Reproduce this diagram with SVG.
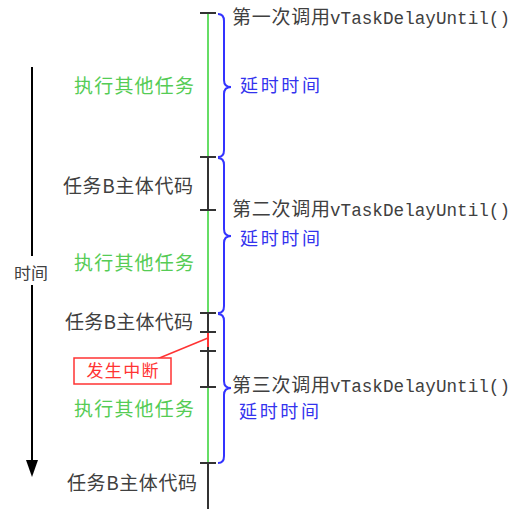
<svg xmlns="http://www.w3.org/2000/svg" width="522" height="509" viewBox="0 0 522 509">
  <style>
    .cjk { font-family: "Noto Sans CJK SC", "Noto Sans", sans-serif; }
    .mono { font-family: "Liberation Mono", "Noto Sans CJK SC", monospace; }
    .gray { fill: #404040; }
    .green { fill: #55cc55; }
    .blue { fill: #3333ee; }
    .red { fill: #ff3333; }
    .seg-g { stroke: #66dd66; stroke-width: 2; fill: none; }
    .seg-k { stroke: #333333; stroke-width: 2; fill: none; }
    .seg-r { stroke: #ff3333; stroke-width: 2; fill: none; }
    .tick { stroke: #333333; stroke-width: 2; }
    .brace { stroke: #3333ff; stroke-width: 2; fill: none; }
  </style>
  <rect width="522" height="509" fill="#ffffff"/>

  <!-- time axis -->
  <g id="time-axis">
    <line x1="32" y1="67" x2="32" y2="256" stroke="#000" stroke-width="2"/>
    <line x1="32" y1="285" x2="32" y2="460" stroke="#000" stroke-width="2"/>
    <path d="M26,460 L38,460 L32,477 Z" fill="#000"/>
    <text x="14" y="279" class="cjk gray" font-size="16" textLength="34" lengthAdjust="spacingAndGlyphs">时间</text>
  </g>

  <!-- timeline segments -->
  <g id="connectors">
    <line class="seg-g" x1="208" y1="13" x2="208" y2="157"/>
    <line class="seg-k" x1="208" y1="157" x2="208" y2="210"/>
    <line class="seg-g" x1="208" y1="210" x2="208" y2="313"/>
    <line class="seg-k" x1="208" y1="313" x2="208" y2="332"/>
    <line class="seg-r" x1="208" y1="332" x2="208" y2="347"/>
    <line class="seg-k" x1="208" y1="347" x2="208" y2="387"/>
    <line class="seg-g" x1="208" y1="387" x2="208" y2="463"/>
    <line class="seg-k" x1="208" y1="463" x2="208" y2="509"/>
    <line class="tick" x1="200" y1="13" x2="216" y2="13"/>
    <line class="tick" x1="200" y1="157" x2="216" y2="157"/>
    <line class="tick" x1="200" y1="210" x2="216" y2="210"/>
    <line class="tick" x1="200" y1="313" x2="216" y2="313"/>
    <line class="tick" x1="200" y1="332" x2="216" y2="332"/>
    <line class="tick" x1="200" y1="351" x2="216" y2="351"/>
    <line class="tick" x1="200" y1="387" x2="216" y2="387"/>
    <line class="tick" x1="200" y1="463" x2="216" y2="463"/>
    <line x1="208" y1="338" x2="157" y2="359" stroke="#ff3333" stroke-width="1.5"/>
  </g>

  <!-- braces -->
  <g id="brace-1">
    <path class="brace" d="M218,14 Q224,14 224,21 L224,80 Q224,87 231,87 Q224,87 224,94 L224,150 Q224,157 218,157"/>
  </g>
  <g id="brace-2">
    <path class="brace" d="M218,158 Q224,158 224,165 L224,229 Q224,236 231,236 Q224,236 224,243 L224,306 Q224,313 218,313"/>
  </g>
  <g id="brace-3">
    <path class="brace" d="M218,314 Q224,314 224,321 L224,381 Q224,388 231,388 Q224,388 224,395 L224,456 Q224,463 218,463"/>
  </g>

  <!-- call labels -->
  <g id="call-1">
    <text y="24" class="gray" font-size="19"><tspan x="232" class="cjk" textLength="98" lengthAdjust="spacing">第一次调用</tspan><tspan x="330" class="mono" font-size="17.6" textLength="180" lengthAdjust="spacing">vTaskDelayUntil()</tspan></text>
  </g>
  <g id="call-2">
    <text y="216" class="gray" font-size="19"><tspan x="232" class="cjk" textLength="98" lengthAdjust="spacing">第二次调用</tspan><tspan x="330" class="mono" font-size="17.6" textLength="180" lengthAdjust="spacing">vTaskDelayUntil()</tspan></text>
  </g>
  <g id="call-3">
    <text y="392" class="gray" font-size="19"><tspan x="232" class="cjk" textLength="98" lengthAdjust="spacing">第三次调用</tspan><tspan x="330" class="mono" font-size="17.6" textLength="180" lengthAdjust="spacing">vTaskDelayUntil()</tspan></text>
  </g>

  <!-- delay labels -->
  <g id="delay-1"><text x="240" y="92" class="cjk blue" font-size="18" textLength="80" lengthAdjust="spacing">延时时间</text></g>
  <g id="delay-2"><text x="240" y="245" class="cjk blue" font-size="18" textLength="80" lengthAdjust="spacing">延时时间</text></g>
  <g id="delay-3"><text x="239" y="418" class="cjk blue" font-size="18" textLength="80" lengthAdjust="spacing">延时时间</text></g>

  <!-- other-task labels -->
  <g id="other-1"><text x="74" y="93" class="cjk green" font-size="19" textLength="120" lengthAdjust="spacing">执行其他任务</text></g>
  <g id="other-2"><text x="74" y="270" class="cjk green" font-size="19" textLength="120" lengthAdjust="spacing">执行其他任务</text></g>
  <g id="other-3"><text x="74" y="416" class="cjk green" font-size="19" textLength="120" lengthAdjust="spacing">执行其他任务</text></g>

  <!-- task B labels -->
  <g id="taskb-1"><text x="63" y="193" class="cjk gray" font-size="19" textLength="130" lengthAdjust="spacing">任务B主体代码</text></g>
  <g id="taskb-2"><text x="65" y="329" class="cjk gray" font-size="19" textLength="128" lengthAdjust="spacing">任务B主体代码</text></g>
  <g id="taskb-3"><text x="67" y="490" class="cjk gray" font-size="19" textLength="130" lengthAdjust="spacing">任务B主体代码</text></g>

  <!-- interrupt callout -->
  <g id="interrupt">
    <rect x="74" y="358" width="97" height="26" fill="#ffffff" stroke="#ff3333" stroke-width="1.5"/>
    <text x="122.5" y="377" class="cjk red" font-size="17" text-anchor="middle" textLength="72" lengthAdjust="spacing">发生中断</text>
  </g>
</svg>
